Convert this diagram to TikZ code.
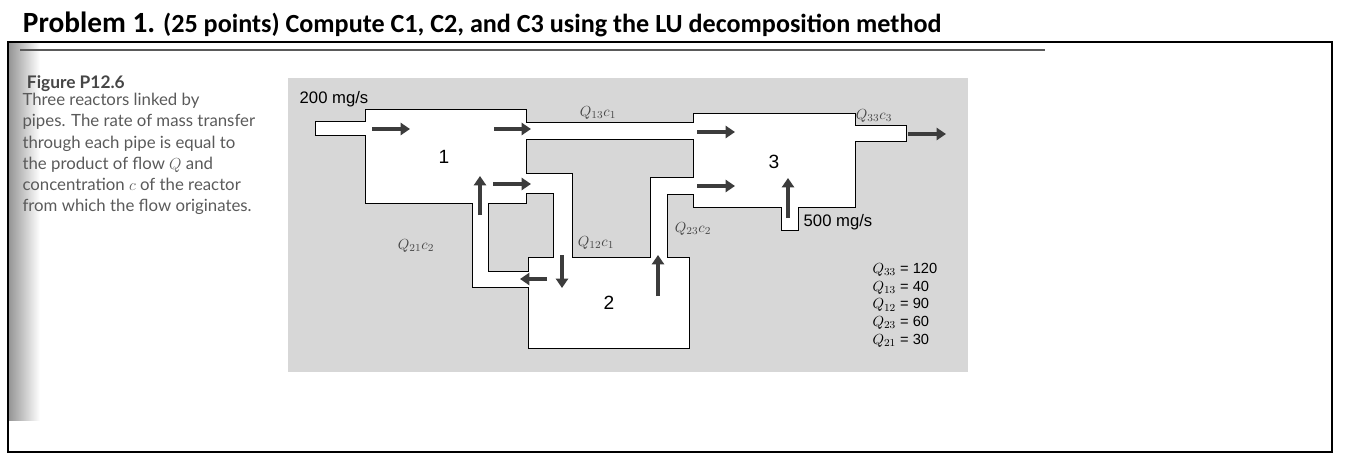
\documentclass[tikz,border=0pt]{standalone}
\usepackage{fontspec}
\setmainfont{Carlito}
\newfontfamily\capfont{Lato}
\newfontfamily\labfont{Liberation Sans}
\usetikzlibrary{arrows.meta}
\tikzset{every picture/.style={line width=0.75pt}}
\tikzset{
  flow/.style={line width=3pt, color={rgb,255:red,60;green,60;blue,60}, -{Triangle[length=7pt,width=9pt]}},
  lab/.style={font=\labfont\fontsize{12.5}{15}\selectfont},
  qlab/.style={font=\fontsize{11}{13}\selectfont, color={rgb,255:red,70;green,70;blue,70}},
}
\begin{document}
\begin{tikzpicture}[x=0.75pt,y=0.75pt,yscale=-1,xscale=1]
\useasboundingbox (0,0) rectangle (1346,464);
% frame and title
\draw [line width=1pt] (8,42) rectangle (1332,452);
\fill [left color={rgb,255:red,150;green,150;blue,150}, right color=white] (9,43) rectangle (40,420);
\draw [line width=1.2pt, color={rgb,255:red,90;green,90;blue,90}] (20,50) -- (1045,50);
\node (title) [anchor=base west, font=\bfseries\fontsize{19.6}{23}\selectfont] at (18,32) {{\fontsize{22}{26}\selectfont Problem 1.} (25 points) Compute C1, C2, and C3 using the LU decomposition method};
% caption
\node (figno) [anchor=base west, font=\capfont\bfseries\fontsize{13}{15}\selectfont, color={rgb,255:red,70;green,70;blue,70}] at (22,88) {Figure P12.6};
\node (caption) [anchor=north west, align=left, inner sep=0pt, font=\capfont\fontsize{12.6}{15.8}\selectfont, color={rgb,255:red,90;green,90;blue,90}] at (22,93) {Three reactors linked by\\pipes. The rate of mass transfer\\through each pipe is equal to\\the product of flow $Q$ and\\concentration $c$ of the reactor\\from which the flow originates.};
% gray panel
\fill [color={rgb,255:red,215;green,215;blue,215}] (288,78) rectangle (968,372);
% reactors and pipes
\draw [fill=white, even odd rule]
  (315,121) -- (365,121) -- (365,109) -- (526,109) -- (526,122) -- (693,122) -- (693,113) -- (855,113) -- (855,125) -- (906,125) -- (906,141) -- (855,141) -- (855,207) -- (798,207) -- (798,230) -- (781,230) -- (781,207) -- (693,207) -- (693,194) -- (667,194) -- (667,257) -- (689,257) -- (689,348) -- (528,348) -- (528,287) -- (472,287) -- (472,203) -- (365,203) -- (365,135) -- (315,135) -- cycle
  (526,139) -- (693,139) -- (693,177) -- (650,177) -- (650,257) -- (572,257) -- (572,173) -- (526,173) -- cycle
  (488,203) -- (526,203) -- (526,193) -- (553,193) -- (553,257) -- (528,257) -- (528,271) -- (488,271) -- cycle;
% flow arrows
\draw [flow] (372,129) -- (410,129);
\draw [flow] (494,129) -- (531,129);
\draw [flow] (697,132) -- (735,132);
\draw [flow] (908,134) -- (946,134);
\draw [flow] (493,184) -- (531,184);
\draw [flow] (697,186) -- (735,186);
\draw [flow] (480,215) -- (480,176);
\draw [flow] (562,255) -- (562,288);
\draw [flow] (547,279) -- (520,279);
\draw [flow] (658,296) -- (658,255);
\draw [flow] (788,218) -- (788,178);
% labels
\node (inA) [lab] at (334,99) {200 mg/s};
\node (inB) [lab] at (838,222) {500 mg/s};
\node (r1) [lab, scale=1.15] at (444,157) {1};
\node (r2) [lab, scale=1.15] at (609,303) {2};
\node (r3) [lab, scale=1.15] at (774,162) {3};
\node (q13) [qlab] at (598,113) {$Q_{13}c_1$};
\node (q33) [qlab] at (874,116) {$Q_{33}c_3$};
\node (q21) [qlab] at (416,246) {$Q_{21}c_2$};
\node (q12) [qlab] at (596,243) {$Q_{12}c_1$};
\node (q23) [qlab] at (693,229) {$Q_{23}c_2$};
\node (qvals) [anchor=north west, align=left, inner sep=0pt, font=\labfont\fontsize{11}{13.2}\selectfont] at (872,263) {$Q_{33}$ = 120\\$Q_{13}$ = 40\\$Q_{12}$ = 90\\$Q_{23}$ = 60\\$Q_{21}$ = 30};
\end{tikzpicture}
\end{document}
